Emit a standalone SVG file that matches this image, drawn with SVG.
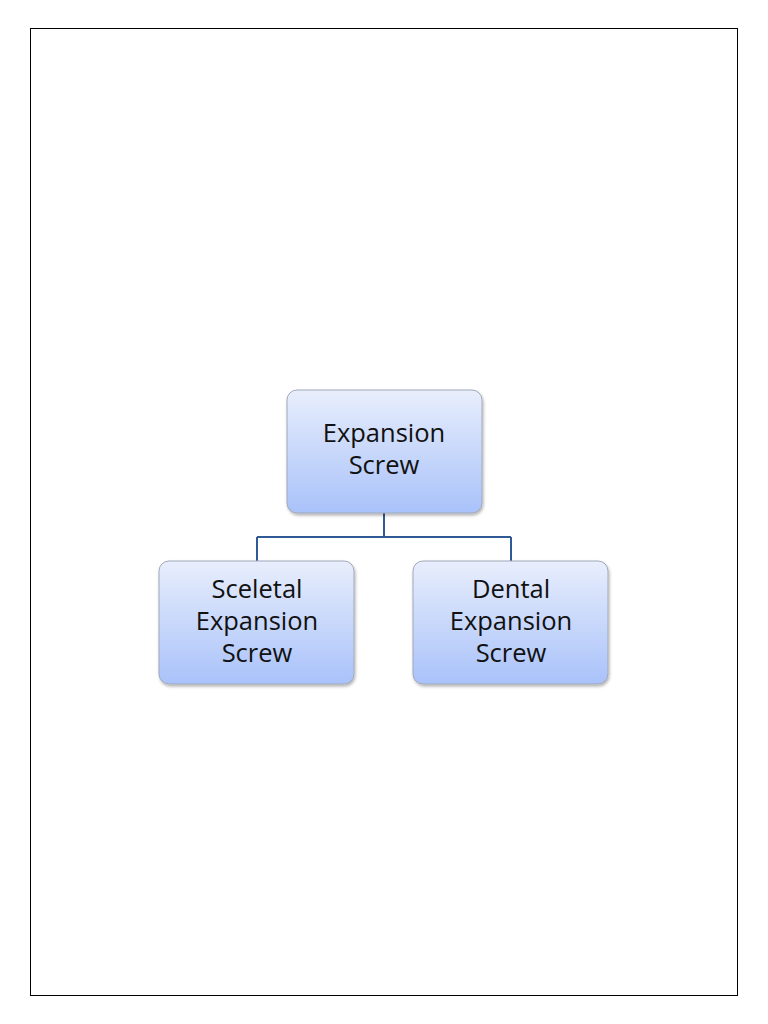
<svg xmlns="http://www.w3.org/2000/svg" width="768" height="1024" viewBox="0 0 768 1024">
<defs>
<linearGradient id="g" x1="0" y1="0" x2="0" y2="1"><stop offset="0" stop-color="#e8eefc"/><stop offset="1" stop-color="#a9c2fa"/></linearGradient>
<filter id="s" x="-10%" y="-10%" width="130%" height="130%"><feDropShadow dx="1" dy="2" stdDeviation="1.5" flood-color="#000" flood-opacity="0.3"/></filter>
</defs>
<style>
.n{fill:url(#g);stroke:#a0a8b8;stroke-width:1;filter:url(#s)}
.t{font-family:"Open Sans","Liberation Sans",sans-serif;font-size:25.500px;fill:#111;text-anchor:middle}
.c{fill:none;stroke:#2f5a96;stroke-width:2}
</style>
<rect x="0" y="0" width="768" height="1024" fill="#fff"/>
<rect x="30.500" y="28.500" width="707" height="967" fill="none" stroke="#000" stroke-width="1"/>
<g id="connectors"><path class="c" d="M384 513V537M257 537H511M257 537V561M511 537V561"/></g>
<g id="root"><rect class="n" x="287" y="390" width="195" height="123" rx="10"/><text class="t" x="384" y="442">Expansion</text><text class="t" x="384" y="474">Screw</text></g>
<g id="skeletal"><rect class="n" x="159" y="561" width="195" height="123" rx="10"/><text class="t" x="257" y="598">Sceletal</text><text class="t" x="257" y="630">Expansion</text><text class="t" x="257" y="662">Screw</text></g>
<g id="dental"><rect class="n" x="413" y="561" width="195" height="123" rx="10"/><text class="t" x="511" y="598">Dental</text><text class="t" x="511" y="630">Expansion</text><text class="t" x="511" y="662">Screw</text></g>
</svg>
